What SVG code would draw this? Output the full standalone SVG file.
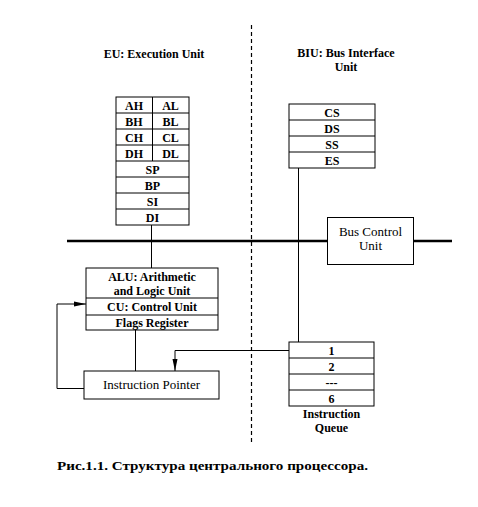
<svg xmlns="http://www.w3.org/2000/svg" width="478" height="507" viewBox="0 0 478 507" font-family="Liberation Serif, Times New Roman, Tinos, DejaVu Serif, serif">
<style>
  text { font-family: "Liberation Serif", "Times New Roman", Tinos, "DejaVu Serif", serif; }
  .b { font-weight: bold; font-size: 12px; fill: #000; text-anchor: middle; }
  .r { font-size: 13px; fill: #000; text-anchor: middle; }
  .box { fill: #fff; stroke: #000; stroke-width: 1; }
  .ln { fill: none; stroke: #000; stroke-width: 1; }
  .bus { fill: none; stroke: #000; stroke-width: 2.5; }
  .dash { fill: none; stroke: #000; stroke-width: 1.2; stroke-dasharray: 4 3; }
</style>
<defs>
  <marker id="arr" viewBox="0 0 12 6" refX="12" refY="3" markerWidth="12" markerHeight="6" markerUnits="userSpaceOnUse" orient="auto">
    <path d="M0,0.5 L12,3 L0,5.5 Z" fill="#000"/>
  </marker>
</defs>
<rect width="478" height="507" fill="#fff"/>

<g id="connectors">
  <line class="dash" x1="251.5" y1="25" x2="251.5" y2="442"/>
  <line class="bus" x1="67" y1="241" x2="327" y2="241"/>
  <line class="bus" x1="414" y1="241" x2="452" y2="241"/>
  <line class="ln" x1="151.5" y1="225" x2="151.5" y2="268"/>
  <line class="ln" x1="298.5" y1="168" x2="298.5" y2="342"/>
  <line class="ln" x1="135.5" y1="330" x2="135.5" y2="371"/>
  <polyline class="ln" points="289,350.5 175,350.5 175,371" marker-end="url(#arr)"/>
  <polyline class="ln" points="84,388.5 57,388.5 57,304 86,304" marker-end="url(#arr)"/>
</g>

<g id="eu-title"><text class="b" x="154" y="58">EU: Execution Unit</text></g>
<g id="biu-title">
  <text class="b" x="346" y="57">BIU: Bus Interface</text>
  <text class="b" x="346" y="71">Unit</text>
</g>

<g id="general-registers">
  <rect class="box" x="116" y="97" width="73" height="128"/>
  <line class="ln" x1="116" y1="113" x2="189" y2="113"/>
  <line class="ln" x1="116" y1="129" x2="189" y2="129"/>
  <line class="ln" x1="116" y1="145" x2="189" y2="145"/>
  <line class="ln" x1="116" y1="161" x2="189" y2="161"/>
  <line class="ln" x1="116" y1="177" x2="189" y2="177"/>
  <line class="ln" x1="116" y1="193" x2="189" y2="193"/>
  <line class="ln" x1="116" y1="209" x2="189" y2="209"/>
  <line class="ln" x1="152.5" y1="97" x2="152.5" y2="161"/>
  <text class="b" x="134" y="109.5">AH</text><text class="b" x="170.5" y="109.5">AL</text>
  <text class="b" x="134" y="125.5">BH</text><text class="b" x="170.5" y="125.5">BL</text>
  <text class="b" x="134" y="141.5">CH</text><text class="b" x="170.5" y="141.5">CL</text>
  <text class="b" x="134" y="157.5">DH</text><text class="b" x="170.5" y="157.5">DL</text>
  <text class="b" x="152.5" y="173.5">SP</text>
  <text class="b" x="152.5" y="189.5">BP</text>
  <text class="b" x="152.5" y="205.5">SI</text>
  <text class="b" x="152.5" y="221.5">DI</text>
</g>

<g id="segment-registers">
  <rect class="box" x="289" y="104" width="86" height="64"/>
  <line class="ln" x1="289" y1="120" x2="375" y2="120"/>
  <line class="ln" x1="289" y1="136" x2="375" y2="136"/>
  <line class="ln" x1="289" y1="152" x2="375" y2="152"/>
  <text class="b" x="332" y="116.5">CS</text>
  <text class="b" x="332" y="132.5">DS</text>
  <text class="b" x="332" y="148.5">SS</text>
  <text class="b" x="332" y="164.5">ES</text>
</g>

<g id="bus-control-unit">
  <rect class="box" x="327.5" y="217.5" width="86" height="47"/>
  <text class="r" x="370.5" y="235.5">Bus Control</text>
  <text class="r" x="370.5" y="249.5">Unit</text>
</g>

<g id="alu">
  <rect class="box" x="86" y="268" width="132" height="62"/>
  <line class="ln" x1="86" y1="298" x2="218" y2="298"/>
  <line class="ln" x1="86" y1="315" x2="218" y2="315"/>
  <text class="b" x="152" y="281">ALU: Arithmetic</text>
  <text class="b" x="152" y="295">and Logic Unit</text>
  <text class="b" x="152" y="311">CU: Control Unit</text>
  <text class="b" x="152" y="326.5">Flags Register</text>
</g>

<g id="instruction-pointer">
  <rect class="box" x="84" y="371" width="135" height="28"/>
  <text class="r" x="151.5" y="389">Instruction Pointer</text>
</g>

<g id="instruction-queue">
  <rect class="box" x="289" y="342" width="85" height="64"/>
  <line class="ln" x1="289" y1="358" x2="374" y2="358"/>
  <line class="ln" x1="289" y1="374" x2="374" y2="374"/>
  <line class="ln" x1="289" y1="390" x2="374" y2="390"/>
  <text class="b" x="331.5" y="354.5">1</text>
  <text class="b" x="331.5" y="370.5">2</text>
  <text class="b" x="331.5" y="386.5">---</text>
  <text class="b" x="331.5" y="402.5">6</text>
  <text class="b" x="331.5" y="418">Instruction</text>
  <text class="b" x="331.5" y="432">Queue</text>
</g>

<g id="caption">
  <text class="b" x="57" y="470" style="text-anchor:start" textLength="311" lengthAdjust="spacingAndGlyphs">Рис.1.1. Структура центрального процессора.</text>
</g>
</svg>
